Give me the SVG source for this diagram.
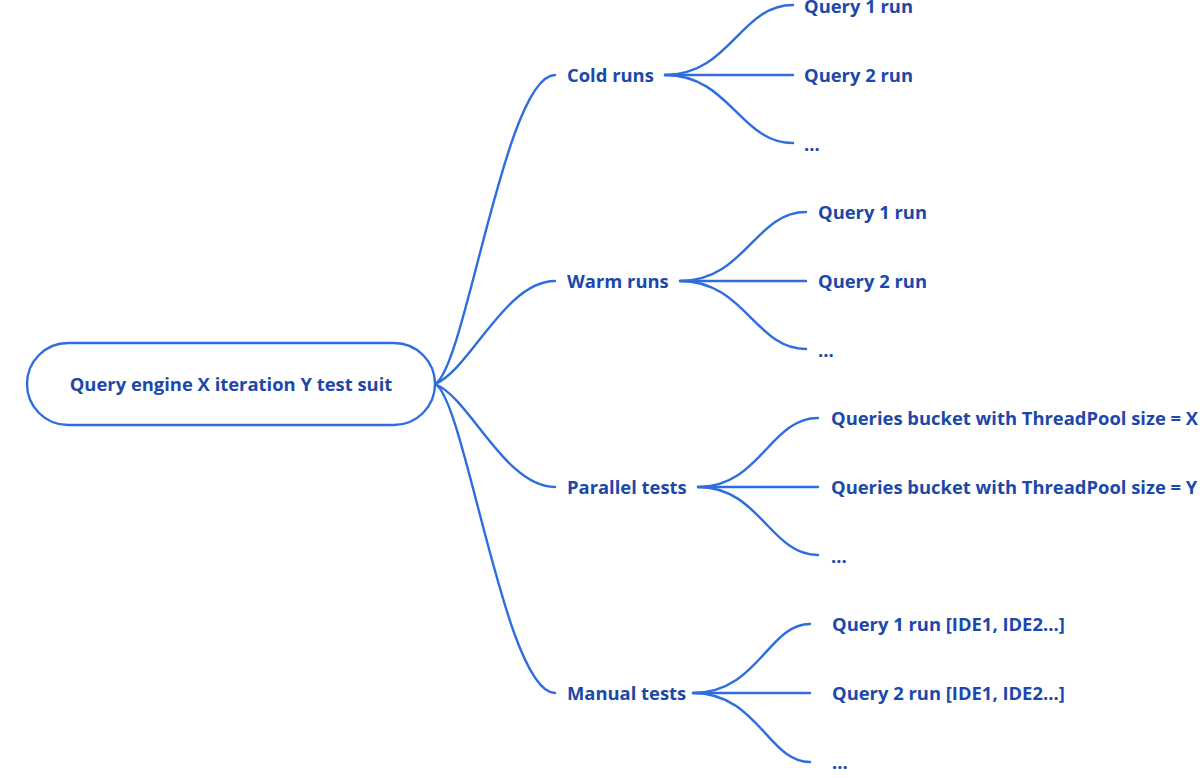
<svg xmlns="http://www.w3.org/2000/svg" width="1200" height="778" viewBox="0 0 1200 778">
<style>
.t{font-family:"Open Sans","Noto Sans",sans-serif;font-weight:700;font-size:18.4px;fill:#1c48a9}
.c{fill:none;stroke:#2e6ddd;stroke-width:2.4;stroke-linecap:round}
</style>
<rect width="1200" height="778" fill="#ffffff"/>
<g id="connectors">
<path class="c" d="M435,384 C465,370 505,75 555,75"/>
<path class="c" d="M435,384 C470,370 505,281 555,281"/>
<path class="c" d="M435,384 C470,398 505,487 555,487"/>
<path class="c" d="M435,384 C465,398 505,693 555,693"/>
<path class="c" d="M665,75 C730,75 740,5 793,5"/>
<path class="c" d="M665,75 H793"/>
<path class="c" d="M665,75 C730,75 740,143 793,143"/>
<path class="c" d="M680,281 C745,281 755,212 806,212"/>
<path class="c" d="M680,281 H806"/>
<path class="c" d="M680,281 C745,281 755,349 806,349"/>
<path class="c" d="M698,487 C760,487 770,418 818,418"/>
<path class="c" d="M698,487 H818"/>
<path class="c" d="M698,487 C760,487 770,555 818,555"/>
<path class="c" d="M693,693 C758,693 768,624 810,624"/>
<path class="c" d="M693,693 H810"/>
<path class="c" d="M693,693 C758,693 768,762 810,762"/>
</g>
<g id="root">
<rect x="27" y="343" width="408" height="82" rx="41" fill="#ffffff" stroke="#2e6ddd" stroke-width="2.4"/>
<text class="t" x="231" y="391" text-anchor="middle">Query engine X iteration Y test suit</text>
</g>
<g id="cold"><text class="t" x="567" y="82">Cold runs</text></g>
<g id="cold1"><text class="t" x="804" y="13">Query 1 run</text></g>
<g id="cold2"><text class="t" x="804" y="82">Query 2 run</text></g>
<g id="cold3"><text class="t" x="804" y="151">...</text></g>
<g id="warm"><text class="t" x="567" y="288">Warm runs</text></g>
<g id="warm1"><text class="t" x="818" y="219">Query 1 run</text></g>
<g id="warm2"><text class="t" x="818" y="288">Query 2 run</text></g>
<g id="warm3"><text class="t" x="818" y="357">...</text></g>
<g id="par"><text class="t" x="567" y="494">Parallel tests</text></g>
<g id="par1"><text class="t" x="831" y="425">Queries bucket with ThreadPool size = X</text></g>
<g id="par2"><text class="t" x="831" y="494">Queries bucket with ThreadPool size = Y</text></g>
<g id="par3"><text class="t" x="831" y="563">...</text></g>
<g id="man"><text class="t" x="567" y="700">Manual tests</text></g>
<g id="man1"><text class="t" x="832" y="631">Query 1 run [IDE1, IDE2...]</text></g>
<g id="man2"><text class="t" x="832" y="700">Query 2 run [IDE1, IDE2...]</text></g>
<g id="man3"><text class="t" x="832" y="769">...</text></g>
</svg>
